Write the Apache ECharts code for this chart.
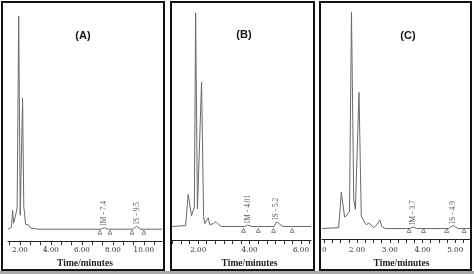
<!DOCTYPE html>
<html>
<head>
<meta charset="utf-8">
<script src="https://cdn.jsdelivr.net/npm/echarts@6/dist/echarts.min.js"></script>
<style>
html,body{margin:0;padding:0;background:#fff;}
#c{width:474px;height:274px;}
</style>
</head>
<body>
<div id="c"></div>
<script>
// ---------- Panel A ----------
const aTime   = [1.23, 1.45, 1.53, 1.59, 1.71, 1.82, 1.92, 2.02, 2.07, 2.17, 2.25, 2.29, 2.36, 2.45, 2.58, 2.71, 2.85, 2.97, 3.16, 7.25, 7.44, 7.65, 9.30, 9.53, 9.80, 11.17];
const aSignal = [0,    2,    19,   6,    13,   22,   215,  14,   16,   132,  22,   18,   5,    3,    4,    1,    1,    3,    0,    0,    1.5,  0,    0,    3,    0,    0];
const aMarks  = [7.16, 7.81, 9.23, 10.0];
const aPeaks  = [7.44, 9.53];
const aPeakH  = [1.5, 3];
const aPeakNames = ["IM - 7.4", "IS - 9.5"];
const aTicks  = [1.33, 2, 2.67, 3.33, 4, 4.67, 5.33, 6, 6.67, 7.33, 8, 8.67, 9.33, 10, 10.67];
const aLabelVals = [2, 4, 6, 8, 10];
const aLabelTexts = ["2.00", "4.00", "6.00", "8.00", "10.00"];

// ---------- Panel B ----------
const bTime   = [0.98, 1.51, 1.61, 1.74, 1.81, 1.85, 1.90, 1.97, 2.04, 2.13, 2.21, 2.26, 2.33, 2.39, 2.45, 2.50, 2.60, 2.69, 2.80, 2.91, 3.80, 3.92, 4.10, 4.95, 5.05, 5.30, 6.39];
const bSignal = [0,    1,    33,   11,   13,   20,   220,  18,   16,   149,  10,   3,    2,    9,    2,    1,    3,    5,    2,    0,    0,    1.3,  0,    0,    4.7,  0,    0];
const bMarks  = [3.76, 4.34, 4.93, 5.66];
const bPeaks  = [3.92, 5.01];
const bPeakH  = [1.3, 4.7];
const bPeakNames = ["IM - 4.01", "IS - 5.2"];
const bTicks  = [1.0, 1.33, 1.67, 2.0, 2.33, 2.67, 3.0, 3.33, 3.67, 4.0, 4.33, 4.67, 5.0, 5.33, 5.67, 6.0, 6.33];
const bLabelVals = [2, 4, 6];
const bLabelTexts = ["2.00", "4.00", "6.00"];

// ---------- Panel C ----------
const cTime   = [0.93, 1.44, 1.52, 1.62, 1.69, 1.77, 1.83, 1.90, 1.95, 2.06, 2.13, 2.20, 2.28, 2.36, 2.51, 2.61, 2.69, 2.76, 2.86, 3.60, 3.71, 3.82, 4.80, 4.93, 5.08, 5.45];
const cSignal = [0,    1,    38,   12,   14,   18,   226,  30,   20,   142,  13,   8,    4,    6,    1,    4,    9,    2,    0,    0,    1.6,  0,    0,    3.3,  0,    0];
const cMarks  = [3.59, 4.03, 4.74, 5.27];
const cPeaks  = [3.71, 4.93];
const cPeakH  = [1.6, 3.3];
const cPeakNames = ["IM - 3.7", "IS - 4.9"];
const cTicks  = [1.0, 1.25, 1.5, 1.75, 2.0, 2.25, 2.5, 2.75, 3.0, 3.25, 3.5, 3.75, 4.0, 4.25, 4.5, 4.75, 5.0, 5.25];
const cLabelVals = [1, 2, 3, 4, 5];
const cLabelTexts = ["0", "2.00", "3.00", "4.00", "5.00"];

const panelTitles = ["(A)", "(B)", "(C)"];
const axisName = "Time/minutes";

const zip = (xs, ys) => xs.map((x, i) => [x, ys[i]]);

const panels = [
  {time:aTime, sig:aSignal, marks:aMarks, peaks:aPeaks, peakH:aPeakH, names:aPeakNames, ticks:aTicks, lv:aLabelVals, lt:aLabelTexts,
   grid:{left:8, top:10, width:154, height:233}, xmin:1.23, xmax:11.17, ymin:-12, ymax:221, markY:-3, labM:5, nameGap:14, nameShift:0, title:[83,30]},
  {time:bTime, sig:bSignal, marks:bMarks, peaks:bPeaks, peakH:bPeakH, names:bPeakNames, ticks:bTicks, lv:bLabelVals, lt:bLabelTexts,
   grid:{left:172, top:10, width:139, height:237}, xmin:0.98, xmax:6.39, ymin:-14, ymax:223, markY:-4, labM:6, nameGap:14, nameShift:16, title:[244,29]},
  {time:cTime, sig:cSignal, marks:cMarks, peaks:cPeaks, peakH:cPeakH, names:cPeakNames, ticks:cTicks, lv:cLabelVals, lt:cLabelTexts,
   grid:{left:322, top:10, width:148, height:239}, xmin:0.93, xmax:5.45, ymin:-11, ymax:228, markY:-2, labM:7, nameGap:12, nameShift:11, title:[408,30]}
];

const grid = [], xAxis = [], yAxis = [], series = [], title = [];
panels.forEach((p, i) => {
  grid.push(Object.assign({containLabel:false}, p.grid));
  xAxis.push({
    type:'value', gridIndex:i, min:p.xmin, max:p.xmax,
    axisLine:{show:true, onZero:false, lineStyle:{color:'#222', width:1}},
    axisTick:{show:true, customValues:p.ticks, length:4, lineStyle:{color:'#333', width:1}},
    axisLabel:{show:true, customValues:p.lv, margin:p.labM, fontSize:8,
      fontFamily:'"DejaVu Serif Condensed", "Liberation Serif", serif', color:'#333',
      formatter:(v)=>{ const k = p.lv.indexOf(v); return k>=0 ? p.lt[k] : ''; }},
    splitLine:{show:false},
    name:axisName, nameLocation:'middle', nameGap:p.nameGap,
    nameTextStyle:{fontFamily:'"Liberation Serif", serif', fontWeight:'bold', fontSize:9.5, color:'#222',
      padding:[0,0,0,p.nameShift]}
  });
  yAxis.push({type:'value', gridIndex:i, min:p.ymin, max:p.ymax, show:false, splitLine:{show:false}});
  series.push({
    type:'line', xAxisIndex:i, yAxisIndex:i, data:zip(p.time, p.sig),
    showSymbol:false, symbol:'none', smooth:false,
    lineStyle:{color:'#6a6a6a', width:1}, silent:true, z:3
  });
  series.push({
    type:'scatter', xAxisIndex:i, yAxisIndex:i,
    data:p.marks.map(t=>[t, p.markY]),
    symbol:'triangle', symbolSize:4,
    itemStyle:{color:'#fff', borderColor:'#444', borderWidth:0.8}, silent:true, z:4
  });
  series.push({
    type:'scatter', xAxisIndex:i, yAxisIndex:i,
    data:p.peaks.map((t,k)=>[t, p.peakH[k], p.names[k]]),
    symbolSize:0, silent:true, z:5,
    label:{show:true, formatter:(q)=>q.value[2], rotate:90, position:'top', distance:2,
      align:'left', verticalAlign:'middle', fontSize:7.5,
      fontFamily:'"Liberation Serif", serif', color:'#333'}
  });
  title.push({text:panelTitles[i], left:p.title[0], top:p.title[1], textAlign:'center', padding:0,
    textStyle:{fontFamily:'"Liberation Sans", Arial, sans-serif', fontWeight:'bold', fontSize:11, color:'#111'}});
});

const chart = echarts.init(document.getElementById('c'), null, {renderer:'canvas'});
chart.setOption({
  backgroundColor:'#fff',
  animation:false,
  title, grid, xAxis, yAxis, series,
  graphic:[
    {type:'rect', shape:{x:0, y:271, width:474, height:3}, style:{fill:'#a8a8a8'}, silent:true},
    {type:'rect', shape:{x:2, y:2, width:162, height:268}, style:{fill:'none', stroke:'#111', lineWidth:2}, silent:true},
    {type:'rect', shape:{x:171, y:2, width:143, height:268}, style:{fill:'none', stroke:'#111', lineWidth:2}, silent:true},
    {type:'rect', shape:{x:320, y:2, width:151, height:268}, style:{fill:'none', stroke:'#111', lineWidth:2}, silent:true}
  ]
});
</script>
</body>
</html>
